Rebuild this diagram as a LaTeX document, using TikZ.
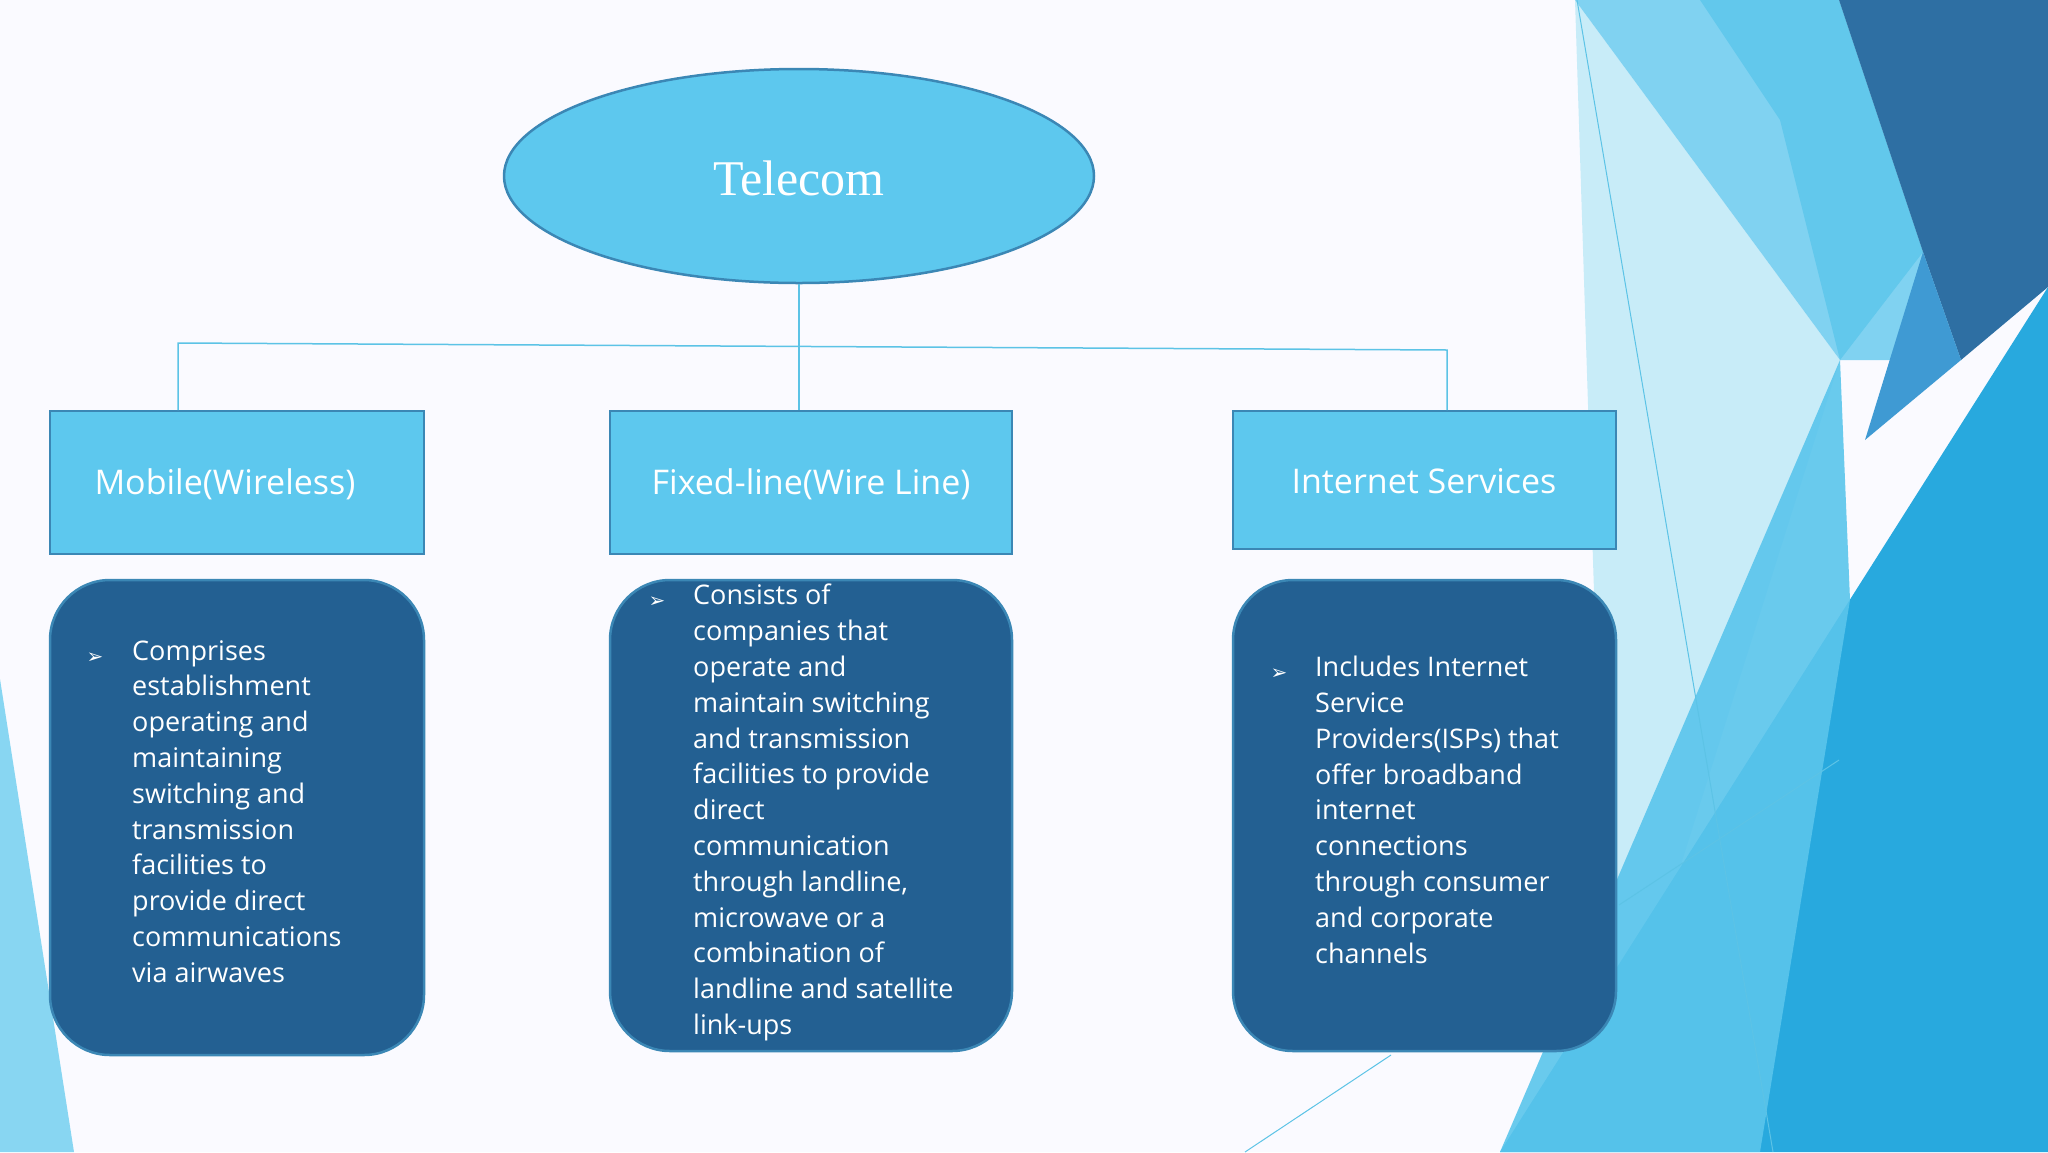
\documentclass[tikz,border=0pt]{standalone}
\usepackage{fontspec}
\usetikzlibrary{shapes.geometric}
\setmainfont{Open Sans}
\newfontfamily\tfont{Liberation Serif}
\newfontfamily\symf{DejaVu Sans}
\begin{document}
\begin{tikzpicture}[x=1pt,y=-1pt,
  conn/.style={draw=lnc,line width=1.5pt},
  body/.style={font=\fontsize{27}{35.8}\selectfont,text=white,align=left,anchor=north west,inner sep=0pt},
  bul/.style={font=\symf\fontsize{20}{24}\selectfont,text=white,inner sep=0pt},
  htxt/.style={font=\fontsize{34}{40}\selectfont,text=white,inner sep=0pt}]
\definecolor{hdr}{HTML}{5DC8EE}
\definecolor{hdrb}{HTML}{3B87B5}
\definecolor{bodyc}{HTML}{236092}
\definecolor{lnc}{HTML}{5CC3E6}
\definecolor{pale}{HTML}{C8ECF8}
\definecolor{lb}{RGB}{128,210,241}
\definecolor{mb}{RGB}{98,200,236}
\definecolor{db}{RGB}{46,111,163}
\definecolor{mid}{RGB}{63,154,211}
\definecolor{bb}{RGB}{40,169,222}
\definecolor{bl}{RGB}{90,197,236}
\definecolor{lt}{RGB}{136,214,242}
\useasboundingbox (0,0) rectangle (2048,1152);
\fill[white!98!blue] (0,0) rectangle (2048,1152);
% background facets
\fill[pale] (1575,0) -- (1840,360) -- (1610,1090) -- cycle;
\fill[lb] (1575,0) -- (1839,0) -- (1923,252) -- (1961,360) -- (1840,360) -- cycle;
\fill[mb] (1700,0) -- (1839,0) -- (1923,252) -- (1840,360) -- (1780,120) -- cycle;
\fill[db] (1839,0) -- (2048,0) -- (2048,287) -- (1961,360) -- (1923,252) -- cycle;
\fill[mid] (1923,252) -- (1961,360) -- (1865,440) -- cycle;
\fill[bb] (1500,1152) -- (2048,287) -- (2048,1152) -- cycle;
\fill[bl,opacity=0.9] (1500,1152) -- (1840,360) -- (1850,600) -- (1760,1152) -- cycle;
\fill[lt] (0,679) -- (74,1152) -- (0,1152) -- cycle;
\coordinate (l1a) at (1577,0); \coordinate (l1b) at (1773,1152);
\coordinate (l2a) at (1619,905); \coordinate (l2b) at (1839,760);
\coordinate (l3a) at (1245,1152); \coordinate (l3b) at (1391,1055);
\draw[lnc,line width=1pt] (l1a) -- (l1b);
\draw[lnc,line width=1pt] (l2a) -- (l2b);
\draw[lnc,line width=1pt] (l3a) -- (l3b);
% tree
\node[ellipse,draw=hdrb,fill=hdr,line width=2.5pt,minimum width=590pt,minimum height=214pt,inner sep=0pt] (tel) at (799,176) {};
\node[font=\tfont\fontsize{50}{56}\selectfont,text=white] (telt) at (799,178) {Telecom};
\path[fill=hdr,draw=hdrb,line width=2.5pt] (50,411) rectangle (424,554);
\path[fill=hdr,draw=hdrb,line width=2.5pt] (610,411) rectangle (1012,554);
\path[fill=hdr,draw=hdrb,line width=2.5pt] (1233,411) rectangle (1616,549);
\coordinate (mob) at (178,410); \coordinate (fix) at (799,410); \coordinate (int) at (1447,410);
\coordinate (hl) at (178,343); \coordinate (hr) at (1447,350);
\draw[conn] (tel.south) -- (fix);
\draw[conn] (mob) -- (hl) -- (hr) -- (int);
\node[htxt] (mt) at (225,484) {Mobile(Wireless)};
\node[htxt] (ft) at (811,484) {Fixed-line(Wire Line)};
\node[htxt] (it) at (1424,481) {Internet Services};
\draw[fill=bodyc,draw=hdrb,line width=2.5pt,rounded corners=60pt] (50,580) rectangle (424,1055);
\draw[fill=bodyc,draw=hdrb,line width=2.5pt,rounded corners=60pt] (610,580) rectangle (1012,1051);
\draw[fill=bodyc,draw=hdrb,line width=2.5pt,rounded corners=60pt] (1233,580) rectangle (1616,1051);
\node[bul] (b1) at (95,658) {➢};
\node[body] (t1) at (132,640) {Comprises\\establishment\\operating and\\maintaining\\switching and\\transmission\\facilities to\\provide direct\\communications\\via airwaves};
\node[bul] (b2) at (657,602) {➢};
\node[body] (t2) at (693,584) {Consists of\\companies that\\operate and\\maintain switching\\and transmission\\facilities to provide\\direct\\communication\\through landline,\\microwave or a\\combination of\\landline and satellite\\link-ups};
\node[bul] (b3) at (1279,674) {➢};
\node[body] (t3) at (1315,656) {Includes Internet\\Service\\Providers(ISPs) that\\offer broadband\\internet\\connections\\through consumer\\and corporate\\channels};
\end{tikzpicture}
\end{document}
